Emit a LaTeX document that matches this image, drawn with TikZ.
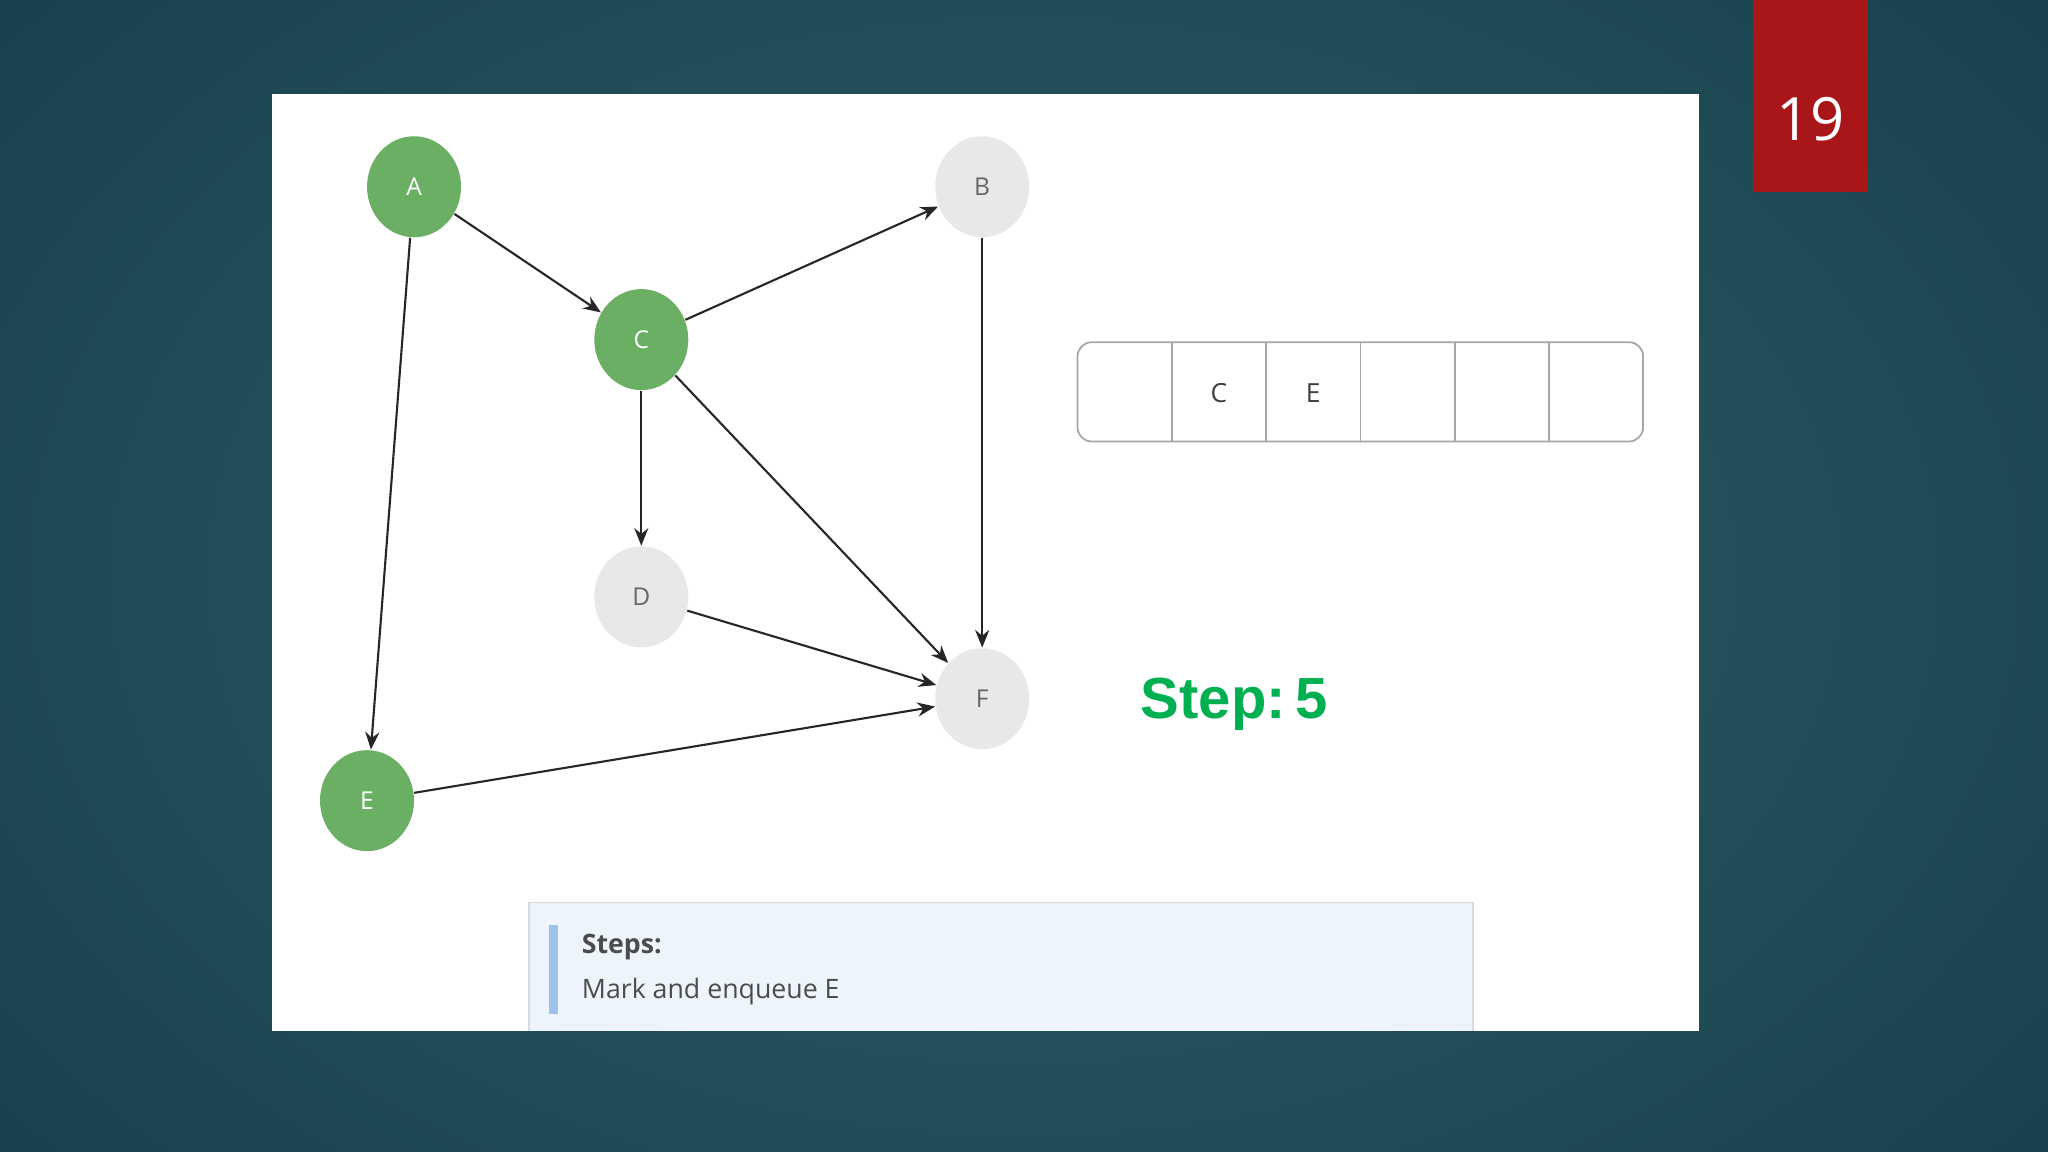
\documentclass[tikz,border=0pt]{standalone}
\usepackage{fontspec}
\setmainfont{Open Sans}
\newfontfamily\arialb{Liberation Sans}
\usetikzlibrary{arrows.meta}
\definecolor{bgdark}{HTML}{173F4B}
\definecolor{bglight}{HTML}{2E6266}
\definecolor{redbox}{HTML}{A8161A}
\definecolor{gnode}{HTML}{6AAF63}
\definecolor{gynode}{HTML}{E8E8EA}
\definecolor{stepgreen}{HTML}{00B050}
\definecolor{boxfill}{HTML}{EEF4FC}
\definecolor{barblue}{HTML}{9CC3E6}
\tikzset{
  vis/.style={ellipse,fill=gnode,minimum width=0.94cm,minimum height=1.01cm,inner sep=0pt,text=white,font=\fontsize{7}{8}\selectfont},
  unvis/.style={ellipse,fill=gynode,minimum width=0.94cm,minimum height=1.01cm,inner sep=0pt,text=black!60,font=\fontsize{7}{8}\selectfont},
  edge/.style={-{Stealth[length=5pt,width=4pt]},line width=0.6pt,black!85},
  qcell/.style={minimum width=0.94cm,minimum height=1cm,inner sep=0pt,font=\fontsize{7.5}{8}\selectfont,text=black!75}
}
\usetikzlibrary{shapes.geometric}
\begin{document}
\begin{tikzpicture}[x=0.013061cm,y=-0.013061cm]
\useasboundingbox (0,0) rectangle (1568,882);
\shade[inner color=bglight,outer color=bgdark] (-300,-300) rectangle (1868,1182);
\fill[white] (208,72) rectangle (1301,789);
\fill[redbox] (1342,0) rectangle (1430,147);
\node[text=white,font=\fontsize{17}{18}\selectfont] (num) at (1386,91) {19};
% nodes
\node[vis] (A) at (317,143) {A};
\node[unvis] (B) at (752,143) {B};
\node[vis] (C) at (491,260) {C};
\node[unvis] (D) at (491,457) {D};
\node[vis] (E) at (281,613) {E};
\node[unvis] (F) at (752,535) {F};
\draw[edge] (A) -- (C);
\draw[edge] (A) -- (E);
\draw[edge] (C) -- (B);
\draw[edge] (C) -- (D);
\draw[edge] (C) -- (F);
\draw[edge] (D) -- (F);
\draw[edge] (E) -- (F);
\draw[edge] (B) -- (F);
% queue
\draw[black!35,line width=0.5pt,rounded corners=4pt] (825,262) rectangle (1258,338);
\foreach \i/\t in {0/,1/C,2/E,3/,4/,5/}{
  \node[qcell] (q\i) at ({861+72.2*\i},301) {\t};
}
\foreach \i in {1,...,5}{ \draw[black!35,line width=0.5pt] ({825+72.2*\i},262) -- ({825+72.2*\i},338); }
\node[text=stepgreen,font=\arialb\bfseries\fontsize{16.5}{18}\selectfont] (step) at (945,539) {Step:\,5};
% steps box
\fill[boxfill] (405,691) rectangle (1128,789);
\draw[black!15,line width=0.5pt] (405,789) -- (405,691) -- (1128,691) -- (1128,789);
\fill[barblue] (420,708) rectangle (427,776);
\node[anchor=west,font=\bfseries\fontsize{7.6}{9}\selectfont,text=black!70] (s1) at (436,725) {Steps:};
\node[anchor=west,font=\fontsize{7.6}{9}\selectfont,text=black!70] (s2) at (436,759) {Mark and enqueue E};
\end{tikzpicture}
\end{document}
